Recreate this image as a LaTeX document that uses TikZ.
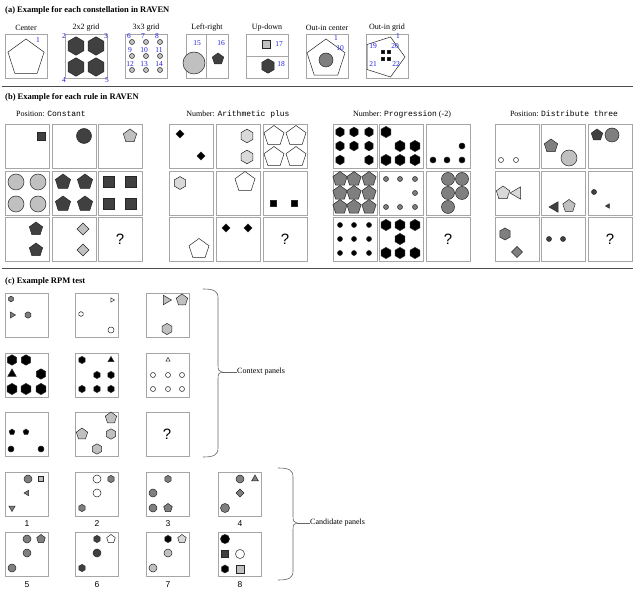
\documentclass[tikz,border=0pt]{standalone}
\usepackage{fontspec}
\setmainfont{Liberation Serif}
\setsansfont{Liberation Sans}
\setmonofont{Liberation Mono}
\usetikzlibrary{shapes.geometric}
\definecolor{dk}{HTML}{404040}
\definecolor{md}{HTML}{7F7F7F}
\definecolor{lt}{HTML}{C0C0C0}
\definecolor{ll}{HTML}{D9D9D9}
\definecolor{fr}{HTML}{A6A6A6}
\definecolor{lb}{HTML}{2020E0}
\tikzset{
 shp/.style={draw=black!85,line width=0.5pt,inner sep=0pt,outer sep=0pt},
 frame/.style={draw=fr,line width=0.7pt},
 ttl/.style={font=\fontsize{8.5}{10}\selectfont\bfseries,anchor=west,inner sep=0},
 lab/.style={font=\fontsize{8}{9}\selectfont,inner sep=0},
 num/.style={font=\fontsize{7.5}{8}\selectfont,text=lb,inner sep=0},
 qm/.style={font=\sffamily\fontsize{15}{16}\selectfont,inner sep=0},
 cnum/.style={font=\sffamily\fontsize{8.5}{9}\selectfont,inner sep=0},
}
\newcommand\Pg[6][0]{\node[shp,regular polygon,regular polygon sides=#2,minimum size=#5,fill=#6,rotate=#1] at (#3,#4) {};}
\newcommand\Ci[4]{\node[shp,circle,minimum size=#3,fill=#4] at (#1,#2) {};}
\newcommand\Hx[4]{\Pg[30]{6}{#1}{#2}{0.8*#3}{#4}}
\newcommand\Pt[4]{\Pg{5}{#1}{#2}{#3}{#4}}
\newcommand\Sq[4]{\Pg{4}{#1}{#2}{#3}{#4}}
\newcommand\Dm[4]{\Pg[45]{4}{#1}{#2}{#3}{#4}}
\newcommand\TrR[4]{\Pg[-90]{3}{#1}{#2}{#3}{#4}}
\newcommand\TrL[4]{\Pg[90]{3}{#1}{#2}{#3}{#4}}
\newcommand\TrU[4]{\Pg{3}{#1}{#2}{#3}{#4}}
\newcommand\TrD[4]{\Pg[180]{3}{#1}{#2}{#3}{#4}}
\newcommand\Cell[2]{\draw[frame] (#1,#2) rectangle ++(44,44);}
\newcommand\Qm[2]{\node[qm] at (#1+22,#2+22) {?};}
\begin{document}
\begin{tikzpicture}[x=1pt,y=-1pt]
\useasboundingbox[fill=white] (0,0) rectangle (641,593);
% ===== (a)
\node[ttl] (ta) at (5,10) {(a) Example for each constellation in RAVEN};
\foreach \x/\t in {26/Center,86/2x2 grid,146/3x3 grid,207/Left-right,267/Up-down,327/Out-in center,387/Out-in grid}
  \node[lab] at (\x,28) {\t};
\foreach \x in {5,65,125,186,246,306,366} \draw[frame] (\x,34) rectangle ++(42,44);
% center
\Pt{26}{58}{38}{white} \node[num] at (38,40) {1};
% 2x2
\Hx{76}{46}{23}{dk} \Hx{96}{46}{23}{dk} \Hx{76}{67}{23}{dk} \Hx{96}{67}{23}{dk}
\node[num] at (64,36) {2}; \node[num] at (106,36) {3}; \node[num] at (64,80) {4}; \node[num] at (107,80) {5};
% 3x3
\foreach \x/\i in {132/0,146/1,160/2}
 \foreach \y/\j in {42/0,56/1,70/2}{\Ci{\x}{\y}{5}{lt}}
\node[num] at (129,36) {6}; \node[num] at (143,36) {7}; \node[num] at (157,36) {8};
\node[num] at (130,50) {9}; \node[num] at (144,50) {10}; \node[num] at (159,50) {11};
\node[num] at (130,64) {12}; \node[num] at (144,64) {13}; \node[num] at (159,64) {14};
% left-right
\draw[frame] (206,34) -- (206,78);
\Ci{194}{63}{22}{lt} \Pt{218}{59}{12}{dk}
\node[num] at (197,43) {15}; \node[num] at (221,43) {16};
% up-down
\draw[frame] (246,56) -- (288,56);
\Sq{266}{44}{12}{lt} \node[num] at (279,44) {17};
\Hx{268}{66}{18}{dk} \node[num] at (281,64) {18};
% out-in center
\Pt{326}{59}{40}{white} \Ci{326}{60}{14}{md}
\node[num] at (336,38) {1}; \node[num] at (340,48) {10};
% out-in grid
\draw[shp,fill=white] (405,57) -- (390.5,37) -- (367,44.5) -- (367,69.5) -- (390.5,77) -- cycle;
\Sq{383}{52}{4}{black} \Sq{389}{52}{4}{black} \Sq{383}{59}{4}{black} \Sq{389}{59}{4}{black}
\node[num] at (373,46) {19}; \node[num] at (395,46) {20}; \node[num] at (398,36) {1};
\node[num] at (373,64) {21}; \node[num] at (396,64) {22};
\draw[line width=0.7pt,black!70] (2,86) -- (633,86);
% ===== (b)
\node[ttl] (tb) at (5,97) {(b) Example for each rule in RAVEN};
\node[lab] at (51,114) {Position: \texttt{Constant}};
\node[lab] at (238,114) {Number: \texttt{Arithmetic plus}};
\node[lab] at (402,114) {Number: \texttt{Progression} (-2)};
\node[lab] at (564,114) {Position: \texttt{Distribute three}};
\foreach \x in {5,52,98,169,216,263,333,379,426,495,541,588}
 \foreach \y in {124,171,217} {\Cell{\x}{\y}}
% group1
\Sq{41}{136}{12}{dk} \Ci{84}{136}{15}{dk} \Pt{130}{136}{14}{lt}
\foreach \a in {16,38}\foreach \b in {182,204}{\Ci{\a}{\b}{16}{lt}}
\foreach \a in {63,85}\foreach \b in {182,204}{\Pt{\a}{\b}{16}{dk}}
\foreach \a in {109,131}\foreach \b in {182,204}{\Sq{\a}{\b}{15}{dk}}
\Pt{36}{229}{14}{dk} \Pt{36}{250}{14}{dk}
\Dm{83}{229}{12}{lt} \Dm{83}{250}{12}{lt}
\Qm{98}{217}
% group2
\Dm{180}{134}{8}{black} \Dm{201}{156}{8}{black}
\Hx{247}{136}{17}{ll} \Hx{247}{157}{17}{ll}
\foreach \a in {274,296}\foreach \b in {136,157}{\Pt{\a}{\b}{21}{white}}
\Hx{180}{183}{16}{ll} \Pt{245}{182}{21}{white}
\Sq{273}{203}{9}{black} \Sq{294}{203}{9}{black}
\Pt{199}{249}{21}{white}
\Dm{226}{228}{8}{black} \Dm{248}{228}{8}{black}
\Qm{263}{217}
% group3
\foreach \a in {340,354,369}\foreach \b in {132,146}{\Hx{\a}{\b}{12}{black}}
\Hx{340}{160}{12}{black} \Hx{369}{160}{12}{black}
\Hx{386}{132}{14}{black} \Hx{400}{146}{14}{black} \Hx{415}{146}{14}{black}
\Hx{386}{160}{14}{black} \Hx{400}{160}{14}{black} \Hx{415}{160}{14}{black}
\Ci{462}{146}{6}{black} \Ci{433}{160}{6}{black} \Ci{447}{160}{6}{black} \Ci{462}{160}{6}{black}
\foreach \a in {340,354,369}\foreach \b in {179,193,207}{\Pt{\a}{\b}{15}{md}}
\foreach \a in {386,400,415}{\Ci{\a}{179}{5}{md}\Ci{\a}{207}{5}{md}} \Ci{415}{193}{5}{md}
\Ci{448}{179}{13}{md} \Ci{462}{179}{13}{md} \Ci{448}{193}{13}{md} \Ci{462}{193}{13}{md} \Ci{448}{207}{13}{md}
\foreach \a in {340,354,369}\foreach \b in {225,239,253}{\Ci{\a}{\b}{5}{black}}
\foreach \a in {386,400,415}{\Hx{\a}{225}{14}{black}\Hx{\a}{253}{14}{black}} \Hx{400}{239}{14}{black}
\Qm{426}{217}
% group4
\Ci{501}{160}{5}{white} \Ci{516}{160}{5}{white}
\Pt{551}{146}{14}{md} \Ci{569}{158}{16}{lt}
\Pt{597}{135}{12}{dk} \Ci{612}{135}{14}{md}
\Pt{503}{193}{14}{ll} \TrL{517}{193}{14}{ll}
\TrL{555}{207}{12}{dk} \Pt{569}{206}{13}{lt}
\Ci{594}{192}{5}{dk} \TrL{608}{206}{5}{dk}
\Hx{505}{234}{15}{md} \Dm{517}{252}{11}{md}
\Ci{549}{239}{5}{dk} \Ci{563}{239}{5}{dk}
\Qm{588}{217}
\draw[line width=0.7pt,black!70] (2,268) -- (633,268);
% ===== (c)
\node[ttl] (tc) at (5,281) {(c) Example RPM test};
\foreach \x in {5,75,146}\foreach \y in {293,353,412}{\draw[frame] (\x,\y) rectangle ++(43,44);}
% row1
\Hx{11}{299}{7}{md} \TrR{12}{315}{7}{md} \Hx{28}{315}{8}{md}
\TrR{112}{300}{5}{white} \Hx{81}{314}{6}{white} \Ci{111}{330}{6}{white}
\TrR{166}{300}{11}{lt} \Pt{182}{300}{12}{lt} \Hx{167}{329}{14}{lt}
% row2
\Hx{12}{360}{13}{black} \Hx{26}{360}{13}{black} \TrU{12}{374}{10}{black} \Hx{41}{374}{13}{black}
\Hx{12}{389}{14}{black} \Hx{26}{389}{14}{black} \Hx{41}{389}{14}{black}
\Hx{82}{360}{9}{black} \TrU{111}{360}{7}{black} \Hx{97}{375}{9}{black} \Hx{111}{375}{9}{black}
\Hx{82}{389}{9}{black} \Hx{97}{389}{9}{black} \Hx{111}{389}{9}{black}
\TrU{168}{360}{5}{white}
\foreach \a in {153,168,182}\foreach \b in {375,389}{\Ci{\a}{\b}{5}{white}}
% row3
\Pt{12}{432}{6}{black} \Pt{26}{432}{6}{black} \Ci{11}{449}{6}{black} \Ci{41}{449}{6}{black}
\Pt{111}{418}{12}{lt} \Pt{82}{434}{12}{lt} \Hx{111}{434}{13}{lt} \Hx{97}{449}{13}{lt}
\node[qm] at (167,434) {?};
% context brace
\coordinate (cb) at (222,372);
\draw[black!60,line width=0.6pt] (203,289) .. controls (214,289) and (218,291) .. (218,298) -- (218,365) .. controls (218,370) and (219,372) .. (cb) .. controls (219,372) and (218,374) .. (218,379) -- (218,448) .. controls (218,455) and (214,457) .. (203,457);
\node[lab,anchor=west] (ctx) at (237,372) {Context panels};
\draw[black!60,line width=0.6pt] (cb) -- (ctx.west);
% candidates
\foreach \x in {5,75,146,218}\foreach \y in {472,532}{\draw[frame] (\x,\y) rectangle ++(43,44);}
\foreach \x/\n in {5/1,75/2,146/3,218/4}{\node[cnum] at (\x+22,524) {\n};}
\foreach \x/\n in {5/5,75/6,146/7,218/8}{\node[cnum] at (\x+22,585) {\n};}
\Ci{28}{479}{8}{md} \Sq{41}{479}{7}{lt} \TrL{27}{493}{6}{md} \TrD{12}{508}{7}{md}
\Ci{97}{479}{8}{white} \Hx{111}{479}{9}{md} \Ci{97}{493}{8}{white} \Hx{82}{508}{9}{md}
\Hx{168}{479}{9}{md} \Ci{153}{493}{8}{md} \Ci{153}{508}{8}{md} \Pt{168}{508}{9}{md}
\Ci{240}{479}{8}{md} \TrU{255}{479}{8}{md} \Dm{240}{493}{8}{md} \Ci{225}{508}{9}{md}
\Ci{27}{539}{8}{md} \Pt{41}{539}{9}{md} \Ci{27}{553}{8}{md} \Ci{12}{568}{8}{md}
\Hx{97}{539}{9}{dk} \Pt{111}{539}{9}{white} \Ci{97}{553}{8}{dk} \Hx{82}{568}{9}{dk}
\Hx{168}{539}{9}{black} \Pt{182}{539}{9}{ll} \Ci{168}{553}{8}{lt} \Ci{153}{568}{8}{lt}
\Ci{225}{539}{9}{black} \Sq{225}{554}{10}{dk} \Ci{240}{554}{9}{white} \Hx{225}{569}{10}{black} \Sq{240}{569}{11}{lt}
% candidate brace
\coordinate (db) at (297,523);
\draw[black!60,line width=0.6pt] (278,468) .. controls (289,468) and (293,470) .. (293,477) -- (293,516) .. controls (293,521) and (294,523) .. (db) .. controls (294,523) and (293,525) .. (293,530) -- (293,571) .. controls (293,578) and (289,580) .. (278,580);
\node[lab,anchor=west] (cand) at (310,523) {Candidate panels};
\draw[black!60,line width=0.6pt] (db) -- (cand.west);
\end{tikzpicture}
\end{document}
